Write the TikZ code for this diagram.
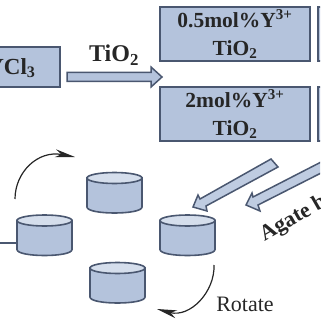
\documentclass[tikz,border=0pt]{standalone}
\usepackage{fontspec}
\setmainfont{Liberation Serif}
\usetikzlibrary{arrows.meta,calc}
\definecolor{edge}{HTML}{4A5770}
\definecolor{fillblue}{HTML}{B4C3DC}
\definecolor{liteblue}{HTML}{D5DEEC}
\tikzset{
  x=1pt,y=-1pt,
  sample/.style={draw=edge,line width=2pt,fill=fillblue,minimum width=150pt,minimum height=54pt,inner sep=0pt,
    align=center,font=\bfseries\fontsize{21.5}{28}\selectfont,text=black!85},
  rawbox/.style={draw=edge,line width=2pt,fill=fillblue,inner sep=0pt},
  jar/.pic={
    \draw[edge,line width=1.6pt,fill=fillblue] (-27.5,0) -- (-27.5,29) .. controls (-27.5,37) and (27.5,37) .. (27.5,29) -- (27.5,0) -- cycle;
    \draw[edge,line width=1.6pt,fill=liteblue] (0,0) ellipse [x radius=27.5,y radius=5.5];
  },
  turn/.style={black!85,line width=1.2pt,-{Stealth[length=20pt,width=8pt,inset=6pt]}},
  fat/.style={draw=edge,line width=1.5pt,fill=#1,line join=miter},
}
\begin{document}
\begin{tikzpicture}
\useasboundingbox (0,0) rectangle (320,320);
\clip (0,0) rectangle (320,320);

% Starting solution and first step
\node[rawbox,minimum width=90pt,minimum height=40pt,anchor=east] (salt) at (61,67) {};
\node[font=\bfseries\fontsize{23}{26}\selectfont,text=black!85,anchor=east] (saltname) at (39,68) {YCl\textsubscript{3}};
\coordinate (flowtail) at (67,77);
\coordinate (flowtip) at (162,77);
\draw[fat=fillblue] ($(flowtail)+(0,-4.5)$) -- ($(flowtip)+(-11,-4.5)$) -- ($(flowtip)+(-11,-10)$) -- (flowtip)
  -- ($(flowtip)+(-11,10)$) -- ($(flowtip)+(-11,4.5)$) -- ($(flowtail)+(0,4.5)$) -- cycle;
\node[font=\bfseries\fontsize{24}{26}\selectfont,text=black!85] (dopant) at (114,55) {TiO\textsubscript{2}};

% Doped samples
\node[sample] (a) at (235,34) {0.5mol\%Y\textsuperscript{3+}\\TiO\textsubscript{2}};
\node[sample] (b) at (235,114) {2mol\%Y\textsuperscript{3+}\\TiO\textsubscript{2}};
\node[sample,anchor=west] (c) at (317,34) {};
\node[sample,anchor=west] (d) at (317,114) {};

% Milling jars on the rotating table
\pic at (114.5,178) {jar};
\pic at (44.5,220.5) {jar};
\pic at (117.5,268) {jar};
\pic at (187.5,220.5) {jar};
\coordinate (feed) at (0,243);
\coordinate (jarleft) at (17,243);
\draw[edge,line width=1.4pt] (feed) -- (jarleft);

% Rotation arrows
\coordinate (r1a) at (15,199);
\coordinate (r1b) at (75,157);
\coordinate (r2a) at (214,265);
\coordinate (r2b) at (157,309);
\draw[turn] (r1a) .. controls (15,172) and (38,150) .. (r1b);
\draw[turn] (r2a) .. controls (215,292) and (190,318) .. (r2b);
\node[font=\fontsize{22}{24}\selectfont,text=black!85] (rot) at (245,304) {Rotate};

% Feed arrows for the agate balls
\draw[fat=fillblue!85!white] (278,167) -- (271,159) -- (200,199) -- (198,195) -- (193,207) -- (207,211) -- (206,206) -- cycle;
\draw[fat=fillblue!85!white] (325,171) -- (325,160) -- (253,197) -- (252,193) -- (246,205) -- (260,211) -- (258,205) -- cycle;
\node[font=\bfseries\fontsize{22}{24}\selectfont,text=black!85,rotate=30,anchor=west] (balls) at (259,239) {Agate b};
\end{tikzpicture}
\end{document}
